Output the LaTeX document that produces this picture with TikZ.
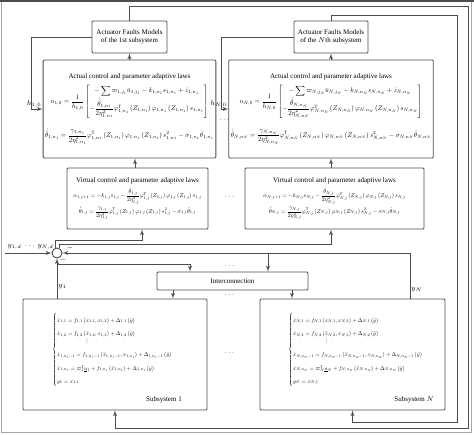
\documentclass[tikz,border=0pt]{standalone}
\usepackage{amsmath}
\usepackage{graphicx}
\usepackage{fontspec}
\setmainfont{Liberation Serif}
\usetikzlibrary{shapes,arrows,calc,fit}
\newcommand{\eqs}[2]{\scalebox{#1}{\fontsize{10}{12}\selectfont #2}}
\tikzstyle{block} = [rectangle, draw=black!70, line width=0.9pt, rounded corners=1pt,
    align=center, inner sep=2pt, font=\fontsize{7}{8.5}\selectfont]
\tikzstyle{line} = [draw=black!70, line width=0.9pt, -latex']
\tikzstyle{lbl} = [inner sep=1pt, font=\fontsize{7}{8}\selectfont]
\tikzstyle{sumj} = [circle, draw=black!70, line width=0.9pt, minimum size=10pt, inner sep=0pt]

\begin{document}
\begin{tikzpicture}[x=1pt, y=-1pt, node distance=2cm, auto]
    \useasboundingbox (0,0) rectangle (474,434);
    % frame
    \draw [black!35, line width=0.6pt] (1,1) rectangle (471,432);
    \draw [black!70, line width=2.5pt] (0,1) -- (474,1);
    % Place nodes
    \node [block, minimum width=75pt, minimum height=32pt] (fault1) at (129.5,37)
        {Actuator Faults Models\\of the 1st subsystem};
    \node [block, minimum width=74pt, minimum height=32pt, right of=fault1, node distance=201.5pt] (faultN)
        {Actuator Faults Models\\of the $N$th subsystem};
    \node [block, minimum width=167pt, minimum height=98pt, below of=fault1, node distance=72pt] (act1)
        {Actual control and parameter adaptive laws\\[5pt]
        \eqs{0.68}{$u_{1,0}=\dfrac{1}{h_{1,0}}\begin{bmatrix}-\displaystyle\sum\varpi_{1,j_1}\bar{u}_{1,j_1}-k_{1,n_1}s_{1,n_1}+\dot{z}_{1,n_1}\\[4pt]
        -\dfrac{\dot{\hat{\theta}}_{1,n_1}}{2\eta_{1,n_1}^2}\varphi_{1,n_1}^{\mathrm{T}}\left(Z_{1,n_1}\right)\varphi_{1,n_1}\left(Z_{1,n_1}\right)s_{1,n_1}\end{bmatrix}$}\\[10pt]
        \eqs{0.68}{$\dot{\hat{\theta}}_{1,n_1}=\dfrac{\gamma_{1,n_1}}{2\eta_{1,n_1}^2}\varphi_{1,n_1}^{\mathrm{T}}\left(Z_{1,n_1}\right)\varphi_{1,n_1}\left(Z_{1,n_1}\right)s_{1,n_1}^2-\sigma_{1,n_1}\hat{\theta}_{1,n_1}$}};
    \node [block, minimum width=185pt, minimum height=98pt, below of=faultN, node distance=72pt] (actN)
        {Actual control and parameter adaptive laws\\[5pt]
        \eqs{0.68}{$u_{N,0}=\dfrac{1}{h_{N,0}}\begin{bmatrix}-\displaystyle\sum\varpi_{N,j_N}\bar{u}_{N,j_N}-k_{N,n_N}s_{N,n_N}+\dot{z}_{N,n_N}\\[4pt]
        -\dfrac{\dot{\hat{\theta}}_{N,n_N}}{2\eta_{N,n_N}^2}\varphi_{N,n_N}^{\mathrm{T}}\left(Z_{N,n_N}\right)\varphi_{N,n_N}\left(Z_{N,n_N}\right)s_{N,n_N}\end{bmatrix}$}\\[10pt]
        \eqs{0.68}{$\dot{\hat{\theta}}_{N,n_N}=\dfrac{\gamma_{N,n_N}}{2\eta_{N,n_N}^2}\varphi_{N,n_N}^{\mathrm{T}}\left(Z_{N,n_N}\right)\varphi_{N,n_N}\left(Z_{N,n_N}\right)s_{N,n_N}^2-\sigma_{N,n_N}\hat{\theta}_{N,n_N}$}};
    \node [block, minimum width=141pt, minimum height=61pt] (vir1) at (137.5,198.5)
        {Virtual control and parameter adaptive laws\\[2pt]
        \eqs{0.58}{$\alpha_{1,j+1}=-k_{1,j}s_{1,j}-\dfrac{\dot{\hat{\theta}}_{1,j}}{2\eta_{1,j}^2}\varphi_{1,j}^{\mathrm{T}}\left(Z_{1,j}\right)\varphi_{1,j}\left(Z_{1,j}\right)s_{1,j}$}\\[1pt]
        \eqs{0.58}{$\dot{\hat{\theta}}_{1,j}=\dfrac{\gamma_{1,j}}{2\eta_{1,j}^2}\varphi_{1,j}^{\mathrm{T}}\left(Z_{1,j}\right)\varphi_{1,j}\left(Z_{1,j}\right)s_{1,j}^2-\sigma_{1,j}\hat{\theta}_{1,j}$}};
    \node [block, minimum width=179pt, minimum height=61pt, right of=vir1, node distance=197pt] (virN)
        {Virtual control and parameter adaptive laws\\[2pt]
        \eqs{0.58}{$\alpha_{N,j+1}=-k_{N,j}s_{N,j}-\dfrac{\dot{\hat{\theta}}_{N,j}}{2\eta_{N,j}^2}\varphi_{N,j}^{\mathrm{T}}\left(Z_{N,j}\right)\varphi_{N,j}\left(Z_{N,j}\right)s_{N,j}$}\\[1pt]
        \eqs{0.58}{$\dot{\hat{\theta}}_{N,j}=\dfrac{\gamma_{N,j}}{2\eta_{N,j}^2}\varphi_{N,j}^{\mathrm{T}}\left(Z_{N,j}\right)\varphi_{N,j}\left(Z_{N,j}\right)s_{N,j}^2-\sigma_{N,j}\hat{\theta}_{N,j}$}};
    \node [sumj] (sum) at (57,253) {};
    \node [block, minimum width=151pt, minimum height=18pt] (inter) at (232.5,281) {Interconnection};
    \node [block, minimum width=184pt, minimum height=111pt] (sub1) at (115,354.5) {};
    \node [block, minimum width=185pt, minimum height=111pt, right of=sub1, node distance=237.5pt] (subN) {};
    % Subsystem contents
    \node [lbl, anchor=west] (eqs1) at (51,350) {\eqs{0.56}{$\renewcommand{\arraystretch}{1.95}\left\{\begin{array}{@{}l@{}}
        \dot{x}_{1,1}=f_{1,1}\left(x_{1,1},x_{1,2}\right)+\Delta_{1,1}\left(\bar{y}\right)\\
        \dot{x}_{1,2}=f_{1,2}\left(\bar{x}_{1,2},x_{1,3}\right)+\Delta_{1,2}\left(\bar{y}\right)\\[-8pt]
        \hspace{52pt}\vdots\\
        \dot{x}_{1,n_1-1}=f_{1,n_1-1}\left(\bar{x}_{1,n_1-1},x_{1,n_1}\right)+\Delta_{1,n_1-1}\left(\bar{y}\right)\\
        \dot{x}_{1,n_1}=\varpi_1^{\mathrm{T}}\underline{u}_1+f_{1,n_1}\left(\bar{x}_{1,n_1}\right)+\Delta_{1,n_1}\left(\bar{y}\right)\\
        y_1=x_{1,1}\end{array}\right.$}};
    \node [lbl, anchor=west] (eqsN) at (287,350) {\eqs{0.56}{$\renewcommand{\arraystretch}{1.95}\left\{\begin{array}{@{}l@{}}
        \dot{x}_{N,1}=f_{N,1}\left(x_{N,1},x_{N,2}\right)+\Delta_{N,1}\left(\bar{y}\right)\\
        \dot{x}_{N,2}=f_{N,2}\left(\bar{x}_{N,2},x_{N,3}\right)+\Delta_{N,2}\left(\bar{y}\right)\\[-8pt]
        \hspace{58pt}\vdots\\
        \dot{x}_{N,n_N-1}=f_{N,n_N-1}\left(\bar{x}_{N,n_N-1},x_{N,n_N}\right)+\Delta_{N,n_N-1}\left(\bar{y}\right)\\
        \dot{x}_{N,n_N}=\varpi_N^{\mathrm{T}}\underline{u}_N+f_{N,n_N}\left(\bar{x}_{N,n_N}\right)+\Delta_{N,n_N}\left(\bar{y}\right)\\
        y_N=x_{N,1}\end{array}\right.$}};
    \node [lbl] (name1) at (164,400) {Subsystem 1};
    \node [lbl] (nameN) at (414,400) {Subsystem $N$};
    % dots
    \node [lbl] (dots1) at (225,120) {$\cdots$};
    \node [lbl] (dots2) at (230,197) {$\cdots$};
    \node [lbl] (dots3) at (230,266) {$\cdots$};
    \node [lbl] (dots4) at (230,295) {$\cdots$};
    \node [lbl] (dots5) at (230,353) {$\cdots$};
    \coordinate (ref) at (5,253);
    % Draw edges
    \path [line] (act1.north -| fault1.south) -- (fault1.south);
    \path [line] (actN.north -| faultN.south) -- (faultN.south);
    \path [line] ([xshift=-2.5pt]vir1.north) -- ([xshift=-2.5pt]vir1.north |- act1.south);
    \path [line] ([xshift=-3.5pt]virN.north) -- ([xshift=-3.5pt]virN.north |- actN.south);
    \path [line] (fault1.west) -- ++(-60,0) |- node [lbl, pos=1, above left] {$h_{1,0}$} (act1.west);
    \path [line] (faultN.west) -- ++(-72,0) |- node [lbl, pos=1, above left] {$h_{N,0}$} (actN.west);
    \path [line] (fault1.north) |- (468,6) -- (468,428) -| (sub1.south);
    \path [line] (faultN.north) |- (457,15) -- (457,422) -| (subN.south);
    \path [line] (ref) -- node [lbl, pos=0.55, above=2pt] {$y_{1,d}\ \cdots\ y_{N,d}$} (sum.west);
    \path [line] ([xshift=-2pt]sum.north) -- ++(0,-7) -| ([xshift=4.5pt]vir1.south);
    \path [line] ([xshift=2pt]sum.north) -- ++(0,-3) -| ([xshift=-3.5pt]virN.south);
    \path [line] ([xshift=57.5pt]subN.north) |- node [lbl, pos=0.1, right] {$y_N$} (sum.east);
    \path [line] (sub1.north -| sum.south) -- node [lbl, pos=0.3, right] {$y_1$} (sum.south);
    \path [line] ($(sum.south)+(0,6)$) -| ([xshift=-42.5pt]inter.north);
    \path [line] ([xshift=35.5pt]inter.north |- sum.east) -- ([xshift=35.5pt]inter.north);
    \path [line] ([xshift=-59.5pt]inter.south) -- ([xshift=-59.5pt]inter.south |- sub1.north);
    \path [line] ([xshift=59.5pt]inter.south) -- ([xshift=59.5pt]inter.south |- subN.north);
    \node [lbl] (minus1) at (70,248) {$-$};
    \node [lbl] (minus2) at (63,260) {$-$};
\end{tikzpicture}
\end{document}
